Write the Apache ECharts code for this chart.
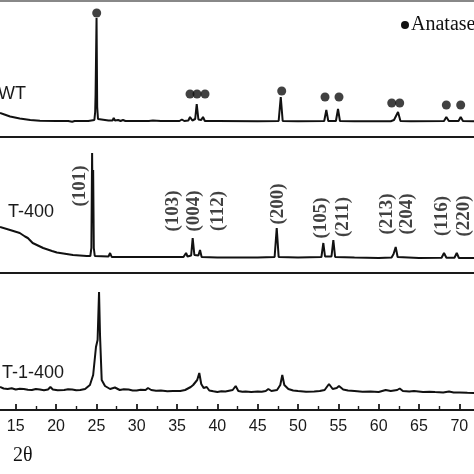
<!DOCTYPE html>
<html><head><meta charset="utf-8">
<script src="https://cdn.jsdelivr.net/npm/echarts@6/dist/echarts.min.js"></script>
<style>html,body{margin:0;padding:0;background:#fff}#c{width:474px;height:474px}</style>
</head><body><div id="c"></div>
<script>
// 2θ (deg), intensity (a.u.)
const wtPattern = [[13.05,24],[13.6,22.5],[14.3,20.5],[15.5,18.5],[16.8,17],[18,16.3],[20,16],[21.5,16],[22,15.3],[22.3,16],[24,16],[24.75,17],[24.85,25],[24.9,42],[24.95,40],[25.02,119],[25.1,30],[25.2,18],[25.4,16.5],[26.5,16.5],[27.0,16.5],[27.15,19],[27.3,16.5],[27.7,17],[28,16],[28.3,17],[28.6,16],[30,16],[31.5,16],[32,16.5],[33,16],[35.3,16],[35.6,17.5],[35.9,16],[36.4,16.5],[36.61,20],[36.9,16.5],[37.25,18],[37.44,33],[37.65,17.5],[38.0,17],[38.22,20],[38.45,16],[40,16],[45,15.8],[47.6,16],[47.86,40],[48.1,16],[50,15.8],[53.25,16],[53.51,27],[53.75,16],[54.7,16],[54.96,28],[55.2,16],[57,15.8],[61.5,15.8],[61.9,17],[62.1,17.5],[62.4,25],[62.7,16],[64,15.8],[68.1,16],[68.39,20],[68.7,16],[69.9,16],[70.17,20],[70.45,16],[72,15.8]];
const t400Pattern = [[13.05,46],[14.3,43],[15.5,40],[16.15,36.5],[16.5,35],[17.1,30],[18.4,25],[19.5,22],[20.1,20.5],[22.1,18],[23.8,17],[24.25,17],[24.38,25],[24.47,120],[24.53,60],[24.6,103],[24.68,25],[24.8,17],[26.5,16.5],[26.7,20],[26.9,16],[30,16],[35.8,16],[36.12,20],[36.3,16.5],[36.75,17.5],[36.94,35],[37.15,18],[37.65,17.5],[37.85,23],[38.05,16],[40,15.5],[45,15.5],[47.1,16],[47.36,45],[47.6,16],[50,15.5],[52.9,16],[53.14,30],[53.35,16.5],[54.15,16.5],[54.38,33],[54.6,16],[57,15.5],[60,15],[61.6,15.5],[61.85,19],[62.11,26],[62.35,16],[65,15],[67.8,15.2],[68.1,20],[68.4,15.2],[69.4,15.2],[69.68,20],[69.95,15],[72,15]];
const t1400Pattern = [[13.05,23],[13.5,21.5],[14,21],[14.5,21.8],[15,20.5],[15.5,21.3],[16,21],[16.5,20.2],[17,20],[17.5,21],[18,20.5],[18.5,19.8],[19,20.5],[19.3,23],[19.6,20.5],[20.2,19.8],[21,20],[21.5,20.8],[22,20.5],[22.5,19.7],[23,20],[23.6,21],[24.2,25],[24.6,35],[24.95,63],[25.15,70],[25.33,118],[25.45,75],[25.66,30],[26.07,24],[26.7,21],[27.3,22.5],[27.9,20],[28.4,20.7],[29,20.5],[29.5,19.6],[30,19.5],[30.5,20.3],[31.1,20],[31.4,22],[31.8,20],[32.4,19.3],[33,19.5],[33.8,18.8],[34.5,19],[35.4,19],[36,20],[36.7,23],[37.0,25],[37.5,30],[37.76,37],[38.0,26],[38.3,22],[38.68,23],[39,19.5],[39.5,18.7],[40,18],[40.5,18.8],[41,18.5],[41.9,20],[42.27,24],[42.6,19],[43.1,18.2],[43.5,18.5],[44.2,18],[45,18.5],[45.5,18.2],[46.0,19],[46.32,21],[46.7,19],[47.4,20],[47.8,25],[48.05,35],[48.3,25],[48.8,21],[49.4,19.5],[50,19],[51,18.3],[52,18.5],[52.7,18.9],[53.3,20],[53.84,26],[54.3,21],[54.8,22],[55.08,24],[55.6,20.5],[56.2,19.5],[57,19],[58,18.3],[59,18.5],[60,18],[60.87,20],[61.5,19],[62.3,20],[62.61,21.5],[63,19],[63.8,18.5],[64.38,19],[65.5,18],[66.3,18.3],[67,18],[68,17.6],[68.72,18.5],[69.3,17.5],[70,17.5],[71,17.2],[72,17]];
const anataseMarks = [[25.04,124],[36.61,43],[37.48,43],[38.47,43],[47.98,46],[53.35,40],[55.08,40],[61.62,34],[62.61,34],[68.39,32],[70.17,32]];
const hklNames = ['(101)','(103)','(004)','(112)','(200)','(105)','(211)','(213)','(204)','(116)','(220)'];
const hklPos = [[22.97,87],[34.46,62],[37.1,62],[40.08,62],[47.52,69],[52.85,55],[55.58,56],[60.99,59],[63.55,59],[67.89,57],[70.58,57]];
const sampleNames = ['WT','T-400','T-1-400'];
const majorTicks = [15,20,25,30,35,40,45,50,55,60,65,70];
const minorTicks = [17.5,22.5,27.5,32.5,37.5,42.5,47.5,52.5,57.5,62.5,67.5];
const xRange = {min:13.05, max:71.82};

const chart = echarts.init(document.getElementById('c'), null, {renderer:'canvas'});
const grids = [{left:0,right:0,top:2,height:135},{left:0,right:0,top:137,height:136},{left:0,right:0,top:273,height:137}];
const xAxes = grids.map((g,i)=>({
  gridIndex:i, type:'value', min:xRange.min, max:xRange.max,
  axisLine:{show:true,onZero:false,lineStyle:{color:'#1a1a1a',width:2}},
  axisTick:{show:i==2,inside:true,length:6,customValues:majorTicks,lineStyle:{color:'#1a1a1a',width:1.8}},
  axisLabel:{show:i==2,customValues:majorTicks,color:'#1a1a1a',fontSize:16,fontFamily:'Liberation Sans, Arial',margin:9},
  splitLine:{show:false}
}));
xAxes.push({gridIndex:2,type:'value',min:xRange.min,max:xRange.max,position:'bottom',
  axisLine:{show:false},axisLabel:{show:false},splitLine:{show:false},
  axisTick:{show:true,inside:true,length:4,customValues:minorTicks,lineStyle:{color:'#1a1a1a',width:1.4}}});
const yAxes = grids.map((g,i)=>({gridIndex:i,type:'value',min:0,max:g.height,show:false,splitLine:{show:false}}));
const pats = [wtPattern,t400Pattern,t1400Pattern];
const series = pats.map((p,i)=>({type:'line',xAxisIndex:i,yAxisIndex:i,data:p,symbol:'none',silent:true,
  lineStyle:{color:'#111',width:2},z:3}));
series.push({type:'scatter',xAxisIndex:0,yAxisIndex:0,data:anataseMarks,symbol:'circle',symbolSize:9,itemStyle:{color:'#111'},silent:true,z:4});
series.push({type:'scatter',xAxisIndex:1,yAxisIndex:1,symbolSize:0,silent:true,
  data:hklPos.map((p,k)=>({value:p,name:hklNames[k]})),
  label:{show:true,position:'inside',formatter:'{b}',rotate:90,color:'#111',fontFamily:'Liberation Serif, Times New Roman',fontSize:19,fontWeight:'bold'}});

const sf = {fontFamily:'Liberation Sans, Arial',fontSize:18,fill:'#1a1a1a'};
chart.setOption({
  animation:false,
  grid:grids, xAxis:xAxes, yAxis:yAxes, series:series,
  graphic:[
    {type:'line',shape:{x1:0,y1:1,x2:474,y2:1},style:{stroke:'#888',lineWidth:2}},
    {type:'text',style:Object.assign({text:sampleNames[0],x:26,y:94,align:'right',verticalAlign:'middle'},sf)},
    {type:'text',style:Object.assign({text:sampleNames[1],x:54,y:212,align:'right',verticalAlign:'middle'},sf)},
    {type:'text',style:Object.assign({text:sampleNames[2],x:64,y:373,align:'right',verticalAlign:'middle'},sf)},
    {type:'circle',shape:{cx:405,cy:25,r:4},style:{fill:'#111'}},
    {type:'text',style:{text:'Anatase',x:411,y:25,verticalAlign:'middle',fontFamily:'Liberation Serif, Times New Roman',fontSize:20,fill:'#111'}},
    {type:'text',style:{text:'2θ',x:13,y:456,verticalAlign:'middle',fontFamily:'Liberation Serif, Times New Roman',fontSize:20,fill:'#111'}}
  ]
});
</script></body></html>
